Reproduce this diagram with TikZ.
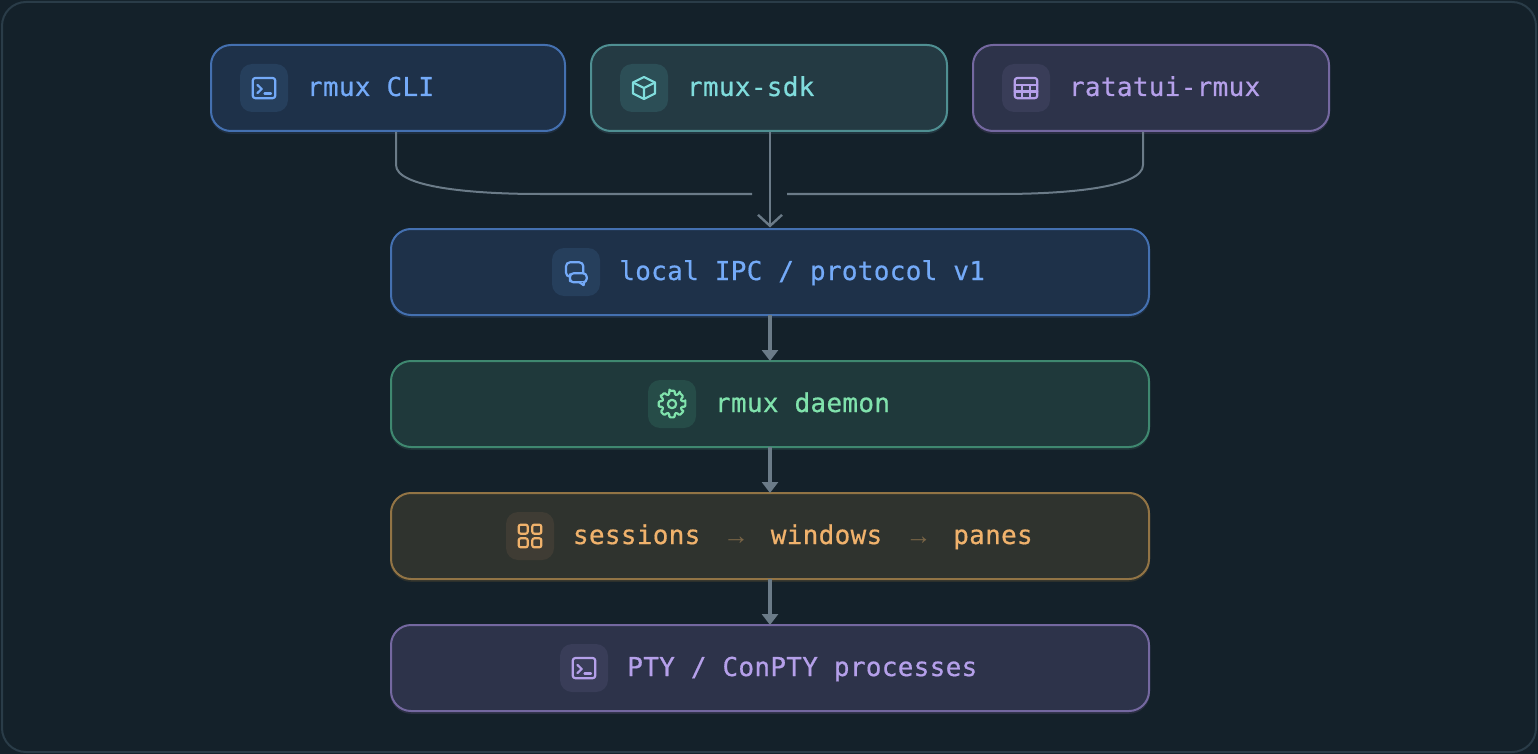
\documentclass[tikz,border=0pt]{standalone}
\usepackage{fontspec}
\usetikzlibrary{arrows.meta}
\newfontfamily\monof[LetterSpace=1.2,FakeBold=0.6]{DejaVu Sans Mono}
\newfontfamily\arrowf{Liberation Sans}
\definecolor{pagebg}{HTML}{14212A}
\definecolor{framec}{HTML}{2A3C48}
\definecolor{linec}{HTML}{6B7B88}
\definecolor{bluefill}{HTML}{1E3149}\definecolor{blueedge}{HTML}{4470B0}\definecolor{bluetxt}{HTML}{74AAF8}\definecolor{blueicon}{HTML}{263F5C}\definecolor{blueshadow}{HTML}{1E2E40}
\definecolor{tealfill}{HTML}{243A43}\definecolor{tealedge}{HTML}{4F8F92}\definecolor{tealtxt}{HTML}{80DCDC}\definecolor{tealicon}{HTML}{2C4E56}\definecolor{tealshadow}{HTML}{223640}
\definecolor{purpfill}{HTML}{2D334A}\definecolor{purpedge}{HTML}{7468A0}\definecolor{purptxt}{HTML}{B5A0EA}\definecolor{purpicon}{HTML}{393D58}\definecolor{purpshadow}{HTML}{2A2E42}
\definecolor{greenfill}{HTML}{1F393B}\definecolor{greenedge}{HTML}{3F8870}\definecolor{greentxt}{HTML}{80E2AC}\definecolor{greenicon}{HTML}{264C48}\definecolor{greenshadow}{HTML}{1E3438}
\definecolor{orfill}{HTML}{2F332E}\definecolor{oredge}{HTML}{927445}\definecolor{ortxt}{HTML}{F0B26C}\definecolor{oricon}{HTML}{3F3C34}\definecolor{orshadow}{HTML}{2C302C}\definecolor{orarrow}{HTML}{7A6546}
\tikzset{
  cardbox/.style args={#1/#2/#3}{draw=#2,fill=#1,line width=2pt,rounded corners=20pt,outer sep=0pt,inner sep=0pt,
    minimum height=86pt,preaction={draw=#3,line width=2pt,transform canvas={yshift=-1.8pt}}},
  iconbg/.style={fill=#1,rounded corners=12pt,minimum width=48pt,minimum height=48pt,inner sep=0pt,outer sep=0pt},
  label/.style={text=#1,anchor=base west,inner sep=0pt,outer sep=0pt,font=\monof\fontsize{26pt}{26pt}\selectfont},
  sep/.style={text=orarrow,anchor=base west,inner sep=0pt,outer sep=0pt,font=\arrowf\fontsize{26pt}{26pt}\selectfont},
  flow/.style={draw=linec,line width=3.2pt,-{Triangle[length=11pt,width=16pt,fill=linec]}},
  merge/.style={draw=linec,line width=2pt},
  trunk/.style={draw=linec,line width=2.4pt,shorten >=1.5pt,-{Straight Barb[length=11pt,width=24pt,line width=2.4pt]}},
  ic/.style={line width=2.2pt,line join=round,line cap=round},
  pics/iconterm/.style={code={
    \draw[ic,rounded corners=2.6pt] (-11.3,-10) rectangle (11.3,10.2);
    \draw[ic] (-6.5,-3) -- (-2.3,1) -- (-6.5,5);
    \draw[ic] (0.5,5.5) -- (7,5.5);
  }},
  pics/iconcube/.style={code={
    \draw[ic] (0,-11) -- (11,-5.5) -- (11,5.5) -- (0,11) -- (-11,5.5) -- (-11,-5.5) -- cycle;
    \draw[ic] (-11,-5.5) -- (0,0) -- (11,-5.5) (0,0) -- (0,11);
  }},
  pics/icontable/.style={code={
    \draw[ic,rounded corners=2.6pt] (-11.3,-10) rectangle (11.3,10.2);
    \draw[ic] (-11.3,-3) -- (11.3,-3) (-11.3,3.5) -- (11.3,3.5) (-3.8,-3) -- (-3.8,10) (4,-3) -- (4,10);
  }},
  pics/iconchat/.style={code={
    \draw[ic,rounded corners=4pt] (-6,4.7) -- (-10,4.7) -- (-10,-9.7) -- (7.3,-9.7) -- (7.3,1.3);
    \draw[ic,rounded corners=3.5pt] (-6,5.8) -- (-6,1.3) -- (10.7,1.3) -- (10.7,10.3) -- (-6,10.3) -- cycle;
    \draw[ic,fill=blueicon] (3.5,10.3) -- (7.6,13.2) -- (8.2,10.3);
  }},
  pics/icongear/.style={code={
    \draw[ic,rounded corners=1pt] (-11:13.6)
      foreach \a in {0,45,...,315}{ -- (\a-11:13.6) -- (\a+11:13.6) -- (\a+17:9.9) -- (\a+28:9.9) -- (\a+34:13.6) } -- cycle;
    \draw[ic] (0,0) circle (4.2);
  }},
  pics/icongrid/.style={code={
    \foreach \px/\py in {-11.3/-11.3,2.3/-11.3,-11.3/2.3,2.3/2.3}
      \draw[ic,rounded corners=2pt] (\px,\py) rectangle ++(9,9);
  }},
}
\begin{document}
\begin{tikzpicture}[x=1pt,y=-1pt]
\useasboundingbox (0,0) rectangle (1538,754);
\fill[pagebg] (0,0) rectangle (1538,754);
\draw[framec,fill=pagebg,line width=2pt,rounded corners=24pt] (2,2) rectangle (1536,752);

% cards
\node[cardbox=bluefill/blueedge/blueshadow,minimum width=354pt] (cli) at (388,88) {};
\node[cardbox=tealfill/tealedge/tealshadow,minimum width=356pt] (sdk) at (769,88) {};
\node[cardbox=purpfill/purpedge/purpshadow,minimum width=356pt] (rat) at (1151,88) {};
\node[cardbox=bluefill/blueedge/blueshadow,minimum width=758pt] (ipc) at (770,272) {};
\node[cardbox=greenfill/greenedge/greenshadow,minimum width=758pt] (daemon) at (770,404) {};
\node[cardbox=orfill/oredge/orshadow,minimum width=758pt] (sess) at (770,536) {};
\node[cardbox=purpfill/purpedge/purpshadow,minimum width=758pt] (pty) at (770,668) {};

% icon tiles
\node[iconbg=blueicon] (icli) at (264,88) {};
\node[iconbg=tealicon] (isdk) at (644,88) {};
\node[iconbg=purpicon] (irat) at (1026,88) {};
\node[iconbg=blueicon] (iipc) at (576,272) {};
\node[iconbg=greenicon] (idae) at (672,404) {};
\node[iconbg=oricon] (ises) at (530,536) {};
\node[iconbg=purpicon] (ipty) at (584,668) {};

% icons
\pic[color=bluetxt] at (icli) {iconterm};
\pic[color=tealtxt] at (isdk) {iconcube};
\pic[color=purptxt] at (irat) {icontable};
\pic[color=bluetxt] at (iipc) {iconchat};
\pic[color=greentxt] at (idae) {icongear};
\pic[color=ortxt] at (ises) {icongrid};
\pic[color=purptxt] at (ipty) {iconterm};

% labels
\node[label=bluetxt] (tcli) at (307,96) {rmux CLI};
\node[label=tealtxt] (tsdk) at (687,96) {rmux-sdk};
\node[label=purptxt] (trat) at (1069,96) {ratatui-rmux};
\node[label=bluetxt] (tipc) at (619.3,280) {local IPC / protocol v1};
\node[label=greentxt] (tdae) at (715,412) {rmux daemon};
\node[label=ortxt] (ts1) at (573,544) {sessions};
\node[sep] (ta1) at (723,544.5) {→};
\node[label=ortxt] (ts2) at (770.8,544) {windows};
\node[sep] (ta2) at (905.5,544.5) {→};
\node[label=ortxt] (ts3) at (953.2,544) {panes};
\node[label=purptxt] (tpty) at (627.3,676) {PTY / ConPTY processes};

% connectors
\coordinate (cliout) at (396,132);
\coordinate (ratout) at (1143,132);
\coordinate (sdkout) at (770,132);
\coordinate (gapl) at (752,194);
\coordinate (gapr) at (787,194);
\draw[merge] (cliout) -- (396,165) .. controls (396,187) and (470,194) .. (540,194) -- (gapl);
\draw[merge] (ratout) -- (1143,165) .. controls (1143,187) and (1070,194) .. (1000,194) -- (gapr);
\draw[trunk] (sdkout) -- (ipc.north);
\draw[flow] (ipc.south) -- (daemon.north);
\draw[flow] (daemon.south) -- (sess.north);
\draw[flow] (sess.south) -- (pty.north);
\end{tikzpicture}
\end{document}
